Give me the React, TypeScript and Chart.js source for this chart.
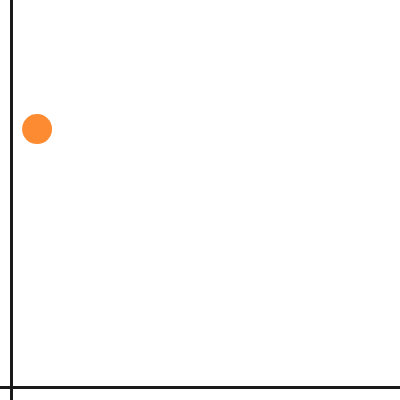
import React, { useEffect, useRef } from "react";
import { Chart, registerables } from "chart.js";

Chart.register(...registerables);

const xValues = [1];
const yValues = [10];
const xRange = [-0.4, 14.7];
const yRange = [-0.5, 15];
const axisColor = "#1a1a1a";
const pointColor = "#fd8b31";

const zeroAxes = {
  id: "zeroAxes",
  beforeDatasetsDraw(chart: any) {
    const { ctx, scales, width, height } = chart;
    const px = Math.round(scales.x.getPixelForValue(0)) + 0.5;
    const py = Math.round(scales.y.getPixelForValue(0)) + 0.5;
    ctx.save();
    ctx.strokeStyle = axisColor;
    ctx.lineWidth = 3;
    ctx.beginPath();
    ctx.moveTo(px, 0);
    ctx.lineTo(px, height);
    ctx.moveTo(0, py);
    ctx.lineTo(width, py);
    ctx.stroke();
    ctx.restore();
  },
};

export default function App() {
  const ref = useRef<HTMLCanvasElement | null>(null);

  useEffect(() => {
    document.body.style.margin = "0";
    const canvas = ref.current;
    if (!canvas) return;
    const data = xValues.map((x, i) => ({ x, y: yValues[i] }));
    const chart = new Chart(canvas, {
      type: "scatter",
      data: {
        datasets: [
          {
            data,
            backgroundColor: pointColor,
            borderColor: pointColor,
            borderWidth: 0,
            pointRadius: 15,
            pointHoverRadius: 15,
          },
        ],
      },
      options: {
        animation: false,
        responsive: false,
        devicePixelRatio: 1,
        layout: { padding: 0, autoPadding: false },
        plugins: { legend: { display: false }, tooltip: { enabled: false } },
        scales: {
          x: { type: "linear", display: false, min: xRange[0], max: xRange[1] },
          y: { type: "linear", display: false, min: yRange[0], max: yRange[1] },
        },
      },
      plugins: [zeroAxes],
    });
    return () => chart.destroy();
  }, []);

  return (
    <div style={{ position: "absolute", left: 0, top: 0, width: 400, height: 400, background: "#fff" }}>
      <canvas ref={ref} width={400} height={400} style={{ display: "block" }} />
    </div>
  );
}
